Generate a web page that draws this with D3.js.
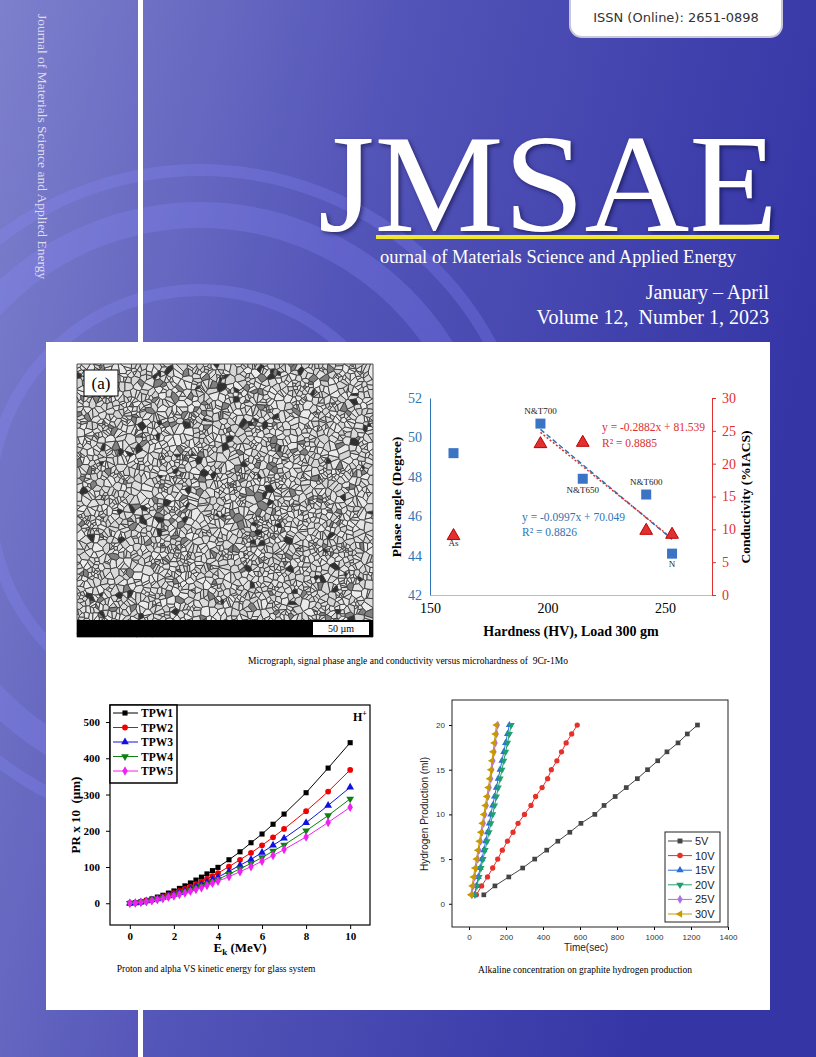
<!DOCTYPE html>
<html><head><meta charset="utf-8">
<script src="https://cdn.jsdelivr.net/npm/d3@7"></script>
<style>body{margin:0}svg{display:block}</style></head>
<body><svg id="c" width="816" height="1057"></svg>
<script>
// ---- data: chart (b) hardness ----
var hardness = [160, 197, 215, 242, 253];
var phase = [49.2, 50.7, 47.9, 47.1, 44.1];
var cond = [9.0, 23.0, 23.2, 9.8, 9.2];
var sampleLabels = ["As", "N&T700", "N&T650", "N&T600", "N"];
var phaseTicks = [42, 44, 46, 48, 50, 52];
var condTicks = [0, 5, 10, 15, 20, 25, 30];
var hardTicks = [150, 200, 250];

// ---- data: proton range ----
var energy = [0,0.25,0.5,0.75,1,1.25,1.5,1.75,2,2.25,2.5,2.75,3,3.25,3.5,3.75,4,4.5,5,5.5,6,6.5,7,8,9,10];
var tpwNames = ["TPW1", "TPW2", "TPW3", "TPW4", "TPW5"];
var tpw1 = [0,2,4,8,12,17,22,28,34,41,48,56,64,72,81,90,99,120,142,167,191,218,246,305,373,443];
var tpw2 = [0,2,4,7,10,14,18,23,28,34,40,46,53,60,67,75,83,101,120,139,160,182,205,254,308,368];
var tpw3 = [0,1,3,6,9,12,16,20,24,29,34,40,46,52,58,65,72,88,105,121,140,160,179,222,270,320];
var tpw4 = [0,1,3,5,8,11,14,18,22,26,31,36,41,47,53,59,66,80,95,110,126,144,161,200,242,288];
var tpw5 = [0,1,3,5,7,10,13,17,20,24,28,33,38,43,49,55,61,73,87,101,116,132,148,183,223,265];
var prTicks = [0, 100, 200, 300, 400, 500];
var ekTicks = [0, 2, 4, 6, 8, 10];

// ---- data: hydrogen production ----
var h2ml = [1,2,3,4,5,6,7,8,9,10,11,12,13,14,15,16,17,18,19,20];
var voltNames = ["5V", "10V", "15V", "20V", "25V", "30V"];
var t5 = [80,140,215,290,355,420,480,545,605,680,730,790,850,910,965,1020,1070,1130,1180,1235];
var t10 = [40,68,100,128,155,180,208,238,265,300,335,360,395,425,445,475,500,525,555,585];
var t15 = [30,40,50,60,70,80,90,100,110,118,128,138,148,158,168,178,188,198,208,218];
var t20 = [32,43,54,65,76,87,98,108,118,128,138,148,158,168,178,188,198,208,218,228];
var t25 = [15,22,30,38,46,54,62,70,78,86,94,102,110,118,124,130,136,142,148,154];
var t30 = [10,17,24,32,40,48,56,64,72,80,88,96,104,112,118,124,130,136,142,148];
var timeTicks = [0,200,400,600,800,1000,1200,1400];
var mlTicks = [0, 5, 10, 15, 20];

var svg = d3.select("#c");
var serif = "'Liberation Serif', 'Times New Roman', serif";
var sans = "'Liberation Sans', Arial, sans-serif";

// background
var defs = svg.append("defs");
var g1 = defs.append("linearGradient").attr("id", "bg").attr("x1", 0).attr("y1", 0).attr("x2", 1).attr("y2", 0.3);
g1.append("stop").attr("offset", 0).attr("stop-color", "#7d80cc");
g1.append("stop").attr("offset", 0.45).attr("stop-color", "#5455b8");
g1.append("stop").attr("offset", 1).attr("stop-color", "#3535a6");
svg.append("rect").attr("width", 816).attr("height", 1057).attr("fill", "url(#bg)");
// faint seal
[330, 285, 210].forEach(function (r, i) {
    svg.append("circle").attr("cx", 200).attr("cy", 500).attr("r", r)
        .attr("fill", "none").attr("stroke", "#8a8cff").attr("stroke-opacity", 0.25)
        .attr("stroke-width", i == 1 ? 26 : 12);
});
svg.append("rect").attr("x", 138).attr("y", 0).attr("width", 5).attr("height", 1057).attr("fill", "#fff");
svg.append("text").attr("transform", "translate(38,14) rotate(90)")
    .attr("font-family", serif).attr("font-size", 13.5).attr("fill", "#dcdcf0")
    .text("Journal of Materials Science and Applied Energy");

// header
svg.append("rect").attr("x", 570).attr("y", -12).attr("width", 212).attr("height", 49).attr("rx", 12)
    .attr("fill", "#fff").attr("stroke", "#c8c8d8").attr("stroke-width", 2);
svg.append("text").attr("x", 676).attr("y", 22).attr("text-anchor", "middle")
    .attr("font-family", "'DejaVu Sans', sans-serif").attr("font-size", 13).attr("fill", "#333")
    .text("ISSN (Online): 2651-0898");
svg.append("text").attr("x", 318).attr("y", 231).attr("font-family", serif).attr("font-size", 140)
    .attr("textLength", 460).attr("lengthAdjust", "spacingAndGlyphs")
    .attr("fill", "#fff").style("filter", "drop-shadow(2px 2px 2px rgba(0,0,40,0.5))").text("JMSAE");
svg.append("rect").attr("x", 376).attr("y", 235).attr("width", 403).attr("height", 4).attr("fill", "#f0e830");
svg.append("text").attr("x", 380).attr("y", 263).attr("font-family", serif).attr("font-size", 18.5)
    .attr("fill", "#fff").text("ournal of Materials Science and Applied Energy");
svg.append("text").attr("x", 769).attr("y", 299).attr("text-anchor", "end").attr("font-family", serif)
    .attr("font-size", 20).attr("fill", "#fff").text("January – April");
svg.append("text").attr("x", 769).attr("y", 324).attr("text-anchor", "end").attr("font-family", serif)
    .attr("font-size", 20).attr("fill", "#fff").attr("xml:space", "preserve").text("Volume 12,  Number 1, 2023");

// panel
svg.append("rect").attr("x", 46).attr("y", 342).attr("width", 724).attr("height", 668).attr("fill", "#fff");

// micrograph (texture only)
var mx = 77, my = 364, mw = 296, mh = 273;
var seed = 7;
function rnd() { seed = (seed * 16807) % 2147483647; return seed / 2147483647; }
var pts = d3.range(3200).map(function () { return [mx + rnd() * mw, my + rnd() * mh]; });
var vor = d3.Delaunay.from(pts).voronoi([mx, my, mx + mw, my + mh]);
var micro = svg.append("g");
micro.append("rect").attr("x", mx).attr("y", my).attr("width", mw).attr("height", mh).attr("fill", "#cfcfcf");
micro.selectAll("path").data(pts).enter().append("path")
    .attr("d", function (d, i) { return vor.renderCell(i); })
    .attr("fill", function () { var r = rnd(); return r < 0.04 ? "#303030" : r < 0.1 ? "#808080" : d3.gray(84 + rnd() * 10); })
    .attr("stroke", "#3a3a3a").attr("stroke-width", 0.9);
micro.append("rect").attr("x", mx).attr("y", 620).attr("width", mw).attr("height", 17).attr("fill", "#000");
micro.append("rect").attr("x", 313).attr("y", 622).attr("width", 56).attr("height", 13).attr("fill", "#fff");
micro.append("text").attr("x", 341).attr("y", 632).attr("text-anchor", "middle").attr("font-family", serif)
    .attr("font-size", 10).text("50 µm");
micro.append("rect").attr("x", 84).attr("y", 370).attr("width", 34).attr("height", 26).attr("fill", "#fff").attr("stroke", "#000");
micro.append("text").attr("x", 101).attr("y", 389).attr("text-anchor", "middle").attr("font-family", serif)
    .attr("font-size", 17).text("(a)");

// ---- chart (b) ----
var blue = "#2e75b6", red = "#e03030";
var xb = d3.scaleLinear().domain([150, 270]).range([430, 712]);
var yp = d3.scaleLinear().domain([42, 52]).range([595, 398]);
var yc = d3.scaleLinear().domain([0, 30]).range([595, 398]);
var cb = svg.append("g");
cb.append("g").attr("transform", "translate(0,595)")
    .call(d3.axisBottom(xb).tickValues(hardTicks).tickSize(0).tickPadding(8))
    .call(function (g) { g.select(".domain").attr("stroke", "#bbb"); });
cb.append("g").attr("transform", "translate(430,0)")
    .call(d3.axisLeft(yp).tickValues(phaseTicks).tickSize(0).tickPadding(8))
    .call(function (g) { g.select(".domain").attr("stroke", blue); g.selectAll("text").attr("fill", blue); });
cb.append("g").attr("transform", "translate(712,0)")
    .call(d3.axisRight(yc).tickValues(condTicks).tickSize(4).tickPadding(6))
    .call(function (g) { g.selectAll("path,line").attr("stroke", red); g.selectAll("text").attr("fill", red); });
cb.selectAll(".tick text").attr("font-family", serif).attr("font-size", 14);
var line = d3.line();
cb.append("path").attr("d", line([197, 253].map(function (x) { return [xb(x), yp(-0.0997 * x + 70.049)]; })))
    .attr("stroke", blue).attr("stroke-width", 1.5).attr("stroke-dasharray", "5,3").attr("fill", "none");
cb.append("path").attr("d", line([197, 253].map(function (x) { return [xb(x), yc(-0.2882 * x + 81.539)]; })))
    .attr("stroke", red).attr("stroke-width", 1.5).attr("stroke-dasharray", "2,2").attr("fill", "none");
cb.selectAll("rect.sq").data(hardness).enter().append("rect")
    .attr("x", function (d) { return xb(d) - 5; }).attr("y", function (d, i) { return yp(phase[i]) - 5; })
    .attr("width", 10).attr("height", 10).attr("fill", "#3b74c4");
cb.selectAll("path.tri").data(hardness).enter().append("path")
    .attr("transform", function (d, i) { return "translate(" + xb(d) + "," + yc(cond[i]) + ")"; })
    .attr("d", d3.symbol(d3.symbolTriangle, 70)).attr("fill", red).attr("stroke", "#c00000");
var lblPos = [[160, 44.5, 0], [197, 51.2, 0], [215, 47.2, 0], [242, 47.6, 0], [253, 43.4, 0]];
cb.selectAll("text.lb").data(sampleLabels).enter().append("text")
    .attr("x", function (d, i) { return xb(lblPos[i][0]); }).attr("y", function (d, i) { return yp(lblPos[i][1]); })
    .attr("text-anchor", "middle").attr("font-family", serif).attr("font-size", 9).attr("fill", "#222").text(function (d) { return d; });
cb.append("text").attr("x", 602).attr("y", 431).attr("font-family", serif).attr("font-size", 11.5).attr("fill", red).text("y = -0.2882x + 81.539");
cb.append("text").attr("x", 602).attr("y", 447).attr("font-family", serif).attr("font-size", 11.5).attr("fill", red).text("R² = 0.8885");
cb.append("text").attr("x", 522).attr("y", 521).attr("font-family", serif).attr("font-size", 11.5).attr("fill", blue).text("y = -0.0997x + 70.049");
cb.append("text").attr("x", 522).attr("y", 536).attr("font-family", serif).attr("font-size", 11.5).attr("fill", blue).text("R² = 0.8826");
cb.append("text").attr("x", 571).attr("y", 636).attr("text-anchor", "middle").attr("font-family", serif)
    .attr("font-size", 14).attr("font-weight", "bold").text("Hardness (HV), Load 300 gm");
cb.append("text").attr("transform", "translate(401,497) rotate(-90)").attr("text-anchor", "middle").attr("font-family", serif)
    .attr("font-size", 13.5).attr("font-weight", "bold").text("Phase angle (Degree)");
cb.append("text").attr("transform", "translate(750,497) rotate(-90)").attr("text-anchor", "middle").attr("font-family", serif)
    .attr("font-size", 13.5).attr("font-weight", "bold").text("Conductivity (%IACS)");
svg.append("text").attr("x", 408).attr("y", 664).attr("text-anchor", "middle").attr("font-family", serif)
    .attr("font-size", 9.5).attr("xml:space", "preserve").text("Micrograph, signal phase angle and conductivity versus microhardness of  9Cr-1Mo");

// ---- proton range chart ----
var xe = d3.scaleLinear().domain([-0.9, 10.9]).range([110, 370]);
var yr = d3.scaleLinear().domain([-60, 547]).range([925, 705]);
var cp = svg.append("g");
cp.append("rect").attr("x", 110).attr("y", 705).attr("width", 260).attr("height", 220).attr("fill", "none").attr("stroke", "#000").attr("stroke-width", 1.2);
cp.append("g").attr("transform", "translate(0,925)").call(d3.axisBottom(xe).tickValues(ekTicks).tickSize(4).tickPadding(3));
cp.append("g").attr("transform", "translate(110,0)").call(d3.axisLeft(yr).tickValues(prTicks).tickSize(4).tickPadding(6));
cp.selectAll(".domain").remove();
cp.selectAll(".tick text").attr("font-family", serif).attr("font-weight", "bold").attr("font-size", 11);
var tpwData = [tpw1, tpw2, tpw3, tpw4, tpw5];
var tpwCol = ["#000", "#f00000", "#1010e0", "#108010", "#f020f0"];
var tpwSym = [d3.symbolSquare, d3.symbolCircle, d3.symbolTriangle, d3.symbolTriangle, d3.symbolDiamond];
var pl = d3.line().x(function (d) { return xe(d[0]); }).y(function (d) { return yr(d[1]); });
tpwData.forEach(function (s, k) {
    var ps = energy.map(function (e, i) { return [e, s[i]]; });
    cp.append("path").attr("d", pl(ps)).attr("fill", "none").attr("stroke", tpwCol[k]).attr("stroke-width", 1);
    cp.selectAll("p" + k).data(ps).enter().append("path")
        .attr("transform", function (d) { return "translate(" + xe(d[0]) + "," + yr(d[1]) + ")" + (k == 3 ? " rotate(180)" : ""); })
        .attr("d", d3.symbol(tpwSym[k], 26)).attr("fill", tpwCol[k]);
});
cp.append("rect").attr("x", 110).attr("y", 705).attr("width", 67).attr("height", 78).attr("fill", "#fff").attr("stroke", "#000").attr("stroke-width", 1.5);
tpwNames.forEach(function (n, k) {
    var y = 713 + k * 14.5;
    cp.append("line").attr("x1", 113).attr("x2", 138).attr("y1", y).attr("y2", y).attr("stroke", tpwCol[k]);
    cp.append("path").attr("transform", "translate(125," + y + ")" + (k == 3 ? " rotate(180)" : "")).attr("d", d3.symbol(tpwSym[k], 26)).attr("fill", tpwCol[k]);
    cp.append("text").attr("x", 141).attr("y", y + 4).attr("font-family", serif).attr("font-weight", "bold").attr("font-size", 11.5).text(n);
});
cp.append("text").attr("x", 353).attr("y", 721).attr("font-family", serif).attr("font-weight", "bold").attr("font-size", 12).html("H<tspan dy='-5' font-size='8'>+</tspan>");
cp.append("text").attr("x", 240).attr("y", 952).attr("text-anchor", "middle").attr("font-family", serif).attr("font-weight", "bold").attr("font-size", 13)
    .html("E<tspan dy='3' font-size='9'>k</tspan><tspan dy='-3'> (MeV)</tspan>");
cp.append("text").attr("transform", "translate(80,815) rotate(-90)").attr("text-anchor", "middle").attr("font-family", serif).attr("font-weight", "bold").attr("font-size", 13).attr("xml:space", "preserve").text("PR x 10  (µm)");
svg.append("text").attr("x", 216).attr("y", 972).attr("text-anchor", "middle").attr("font-family", serif).attr("font-size", 9.5).text("Proton and alpha VS kinetic energy for glass system");

// ---- hydrogen chart ----
var xt = d3.scaleLinear().domain([-92, 1400]).range([452, 728]);
var yh = d3.scaleLinear().domain([-2.6, 22.8]).range([927, 700]);
var ch = svg.append("g");
ch.append("g").attr("transform", "translate(0,927)").call(d3.axisBottom(xt).tickValues(timeTicks).tickFormat(d3.format("d")).tickSize(3).tickPadding(4));
ch.append("g").attr("transform", "translate(452,0)").call(d3.axisLeft(yh).tickValues(mlTicks).tickSize(3).tickPadding(4));
ch.selectAll(".domain").remove();
ch.selectAll(".tick text").attr("font-family", sans).attr("font-size", 8).attr("fill", "#333");
ch.append("rect").attr("x", 452).attr("y", 700).attr("width", 276).attr("height", 227).attr("fill", "none").attr("stroke", "#222");
var vData = [t5, t10, t15, t20, t25, t30];
var vCol = ["#444", "#e8302a", "#2a6fd6", "#20a070", "#b070e0", "#c89a00"];
var vSym = [d3.symbolSquare, d3.symbolCircle, d3.symbolTriangle, d3.symbolTriangle, d3.symbolDiamond, d3.symbolTriangle];
var vRot = [0, 0, 0, 180, 0, -90];
var hl = d3.line().x(function (d) { return xt(d[0]); }).y(function (d) { return yh(d[1]); });
vData.forEach(function (s, k) {
    var ps = s.map(function (t, i) { return [t, h2ml[i]]; });
    ch.append("path").attr("d", hl(ps)).attr("fill", "none").attr("stroke", vCol[k]).attr("stroke-width", 1);
    ch.selectAll("q" + k).data(ps).enter().append("path")
        .attr("transform", function (d) { return "translate(" + xt(d[0]) + "," + yh(d[1]) + ") rotate(" + vRot[k] + ")"; })
        .attr("d", d3.symbol(vSym[k], 22)).attr("fill", vCol[k]);
});
ch.append("rect").attr("x", 665).attr("y", 832).attr("width", 55).attr("height", 90).attr("fill", "#fff").attr("stroke", "#222");
voltNames.forEach(function (n, k) {
    var y = 841 + k * 14.6;
    ch.append("line").attr("x1", 668).attr("x2", 692).attr("y1", y).attr("y2", y).attr("stroke", vCol[k]);
    ch.append("path").attr("transform", "translate(680," + y + ") rotate(" + vRot[k] + ")").attr("d", d3.symbol(vSym[k], 24)).attr("fill", vCol[k]);
    ch.append("text").attr("x", 695).attr("y", y + 4).attr("font-family", sans).attr("font-size", 11).attr("fill", "#222").text(n);
});
ch.append("text").attr("transform", "translate(428,814) rotate(-90)").attr("text-anchor", "middle").attr("font-family", sans).attr("font-size", 10).attr("fill", "#222").text("Hydrogen Production (ml)");
ch.append("text").attr("x", 586).attr("y", 951).attr("text-anchor", "middle").attr("font-family", sans).attr("font-size", 10).attr("fill", "#222").text("Time(sec)");
svg.append("text").attr("x", 585).attr("y", 973).attr("text-anchor", "middle").attr("font-family", serif).attr("font-size", 9.5).text("Alkaline concentration on graphite hydrogen production");
</script></body></html>
